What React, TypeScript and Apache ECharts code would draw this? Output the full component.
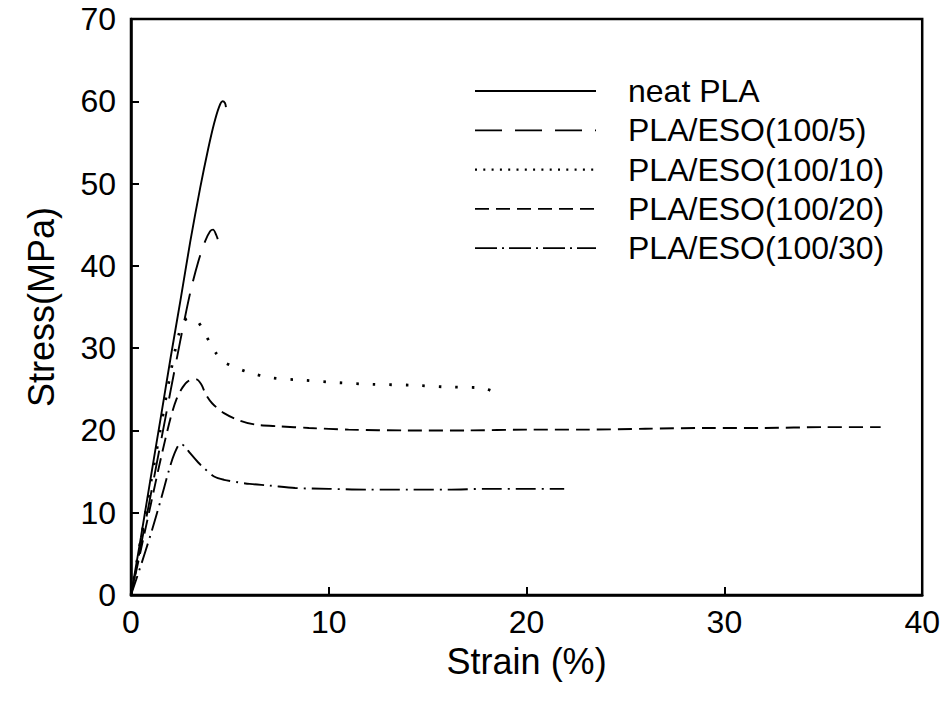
import React, { useEffect, useRef } from "react";
import * as echarts from "echarts";

const seriesNames = [
  "neat PLA",
  "PLA/ESO(100/5)",
  "PLA/ESO(100/10)",
  "PLA/ESO(100/20)",
  "PLA/ESO(100/30)",
];

const neatPLA: number[][] = [
  [0, 0], [0.5, 7], [1, 14.3], [1.5, 21.5], [2, 28.8], [2.5, 35.8], [3, 43],
  [3.5, 49.5], [3.9, 54.2], [4.2, 57.3], [4.45, 59.3], [4.63, 60], [4.75, 59.8], [4.8, 59.3],
];

const eso5: number[][] = [
  [0, 0], [0.5, 6], [1, 12.2], [1.5, 18.5], [2, 24.8], [2.5, 31], [3, 36.8],
  [3.4, 40.5], [3.75, 43], [4.0, 44.2], [4.15, 44.4], [4.3, 43.8], [4.45, 42.8], [4.6, 41.8],
];

const eso10: number[][] = [
  [0, 0], [0.5, 6.8], [1, 13.6], [1.5, 20.3], [2, 27], [2.4, 31.5], [2.65, 33.2],
  [2.87, 33.6], [3.3, 33.4], [3.6, 32.4], [4.0, 30.6], [4.3, 29.4], [4.65, 28.4],
  [5.05, 27.9], [5.9, 27.1], [7.1, 26.4], [8.8, 26.1], [10.5, 25.8], [12.2, 25.6],
  [14.2, 25.5], [15.8, 25.3], [17.5, 25.2], [18, 25], [18.35, 24.7],
];

const eso20: number[][] = [
  [0, 0], [0.5, 5.5], [1, 11], [1.5, 16.5], [2, 21.5], [2.3, 23.8], [2.6, 25.2],
  [2.9, 26], [3.3, 26.2], [3.55, 25.6], [3.8, 24.3], [4.1, 23.3], [4.7, 22.1],
  [5.5, 21.2], [6.3, 20.7], [7.5, 20.5], [9, 20.3], [11, 20.1], [14, 20.0], [17, 20.0],
  [20, 20.1], [23, 20.1], [26, 20.2], [29, 20.3], [32, 20.3], [35, 20.4], [37.9, 20.4],
];

const eso30: number[][] = [
  [0, 0], [0.5, 3.6], [1, 7.4], [1.5, 11.5], [1.9, 15], [2.2, 17.2], [2.5, 18.4],
  [2.7, 18.1], [3.0, 17.2], [3.4, 16.1], [3.7, 15.4], [4.2, 14.4], [4.7, 14.0],
  [5.4, 13.7], [6, 13.5], [7, 13.3], [8.3, 13.0], [10, 12.9], [12, 12.8], [14, 12.8],
  [16, 12.8], [18, 12.9], [20, 12.9], [21.9, 12.9],
];

const allData = [neatPLA, eso5, eso10, eso20, eso30];
const plotDash: (string | number[])[] = ["solid", [27, 13], [2.5, 14], [14, 7], [20, 6, 2, 6]];
const plotWidth = [1.9, 1.9, 2.8, 1.9, 1.9];
const legendDash: (number[] | null)[] = [null, [27, 13], [2, 6.3], [14, 7], [22, 5, 2, 5]];

const FONT = "'Liberation Sans', Arial, Helvetica, sans-serif";

export default function App() {
  const ref = useRef<HTMLDivElement>(null);

  useEffect(() => {
    if (!ref.current) return;
    const chart = echarts.init(ref.current, null, { renderer: "svg" });

    const legendTop = 91;
    const legendStep = 39.3;
    const graphics: any[] = [];
    seriesNames.forEach((name, i) => {
      const y = legendTop + i * legendStep;
      const style: any = { stroke: "#000", lineWidth: i === 2 ? 2.4 : 1.8 };
      if (legendDash[i]) style.lineDash = legendDash[i];
      graphics.push({
        type: "line",
        shape: { x1: 475, y1: y, x2: 596, y2: y },
        style,
        silent: true,
      });
      graphics.push({
        type: "text",
        x: 628,
        y: y,
        style: {
          text: name,
          font: `32px ${FONT}`,
          fill: "#000",
          textVerticalAlign: "middle",
          verticalAlign: "middle",
        },
        silent: true,
      });
    });

    chart.setOption({
      animation: false,
      backgroundColor: "#fff",
      grid: {
        left: 131,
        top: 19,
        right: 14,
        bottom: 127,
        show: true,
        borderColor: "#000",
        borderWidth: 2.5,
        backgroundColor: "transparent",
      },
      xAxis: {
        type: "value",
        min: 0,
        max: 40,
        interval: 10,
        name: "Strain (%)",
        nameLocation: "middle",
        nameGap: 48,
        nameTextStyle: { fontSize: 36, color: "#000", fontFamily: FONT },
        axisLine: { show: true, lineStyle: { color: "#000", width: 2.5 } },
        axisTick: { show: true, inside: true, length: 8, lineStyle: { color: "#000", width: 2 } },
        axisLabel: { fontSize: 32, color: "#000", fontFamily: FONT, margin: 11 },
        splitLine: { show: false },
      },
      yAxis: {
        type: "value",
        min: 0,
        max: 70,
        interval: 10,
        name: "Stress(MPa)",
        nameLocation: "middle",
        nameRotate: 90,
        nameGap: 72,
        nameTextStyle: { fontSize: 36, color: "#000", fontFamily: FONT },
        axisLine: { show: true, lineStyle: { color: "#000", width: 2.5 } },
        axisTick: { show: true, inside: true, length: 8, lineStyle: { color: "#000", width: 2 } },
        axisLabel: { fontSize: 32, color: "#000", fontFamily: FONT, margin: 15 },
        splitLine: { show: false },
      },
      series: allData.map((d, i) => ({
        name: seriesNames[i],
        type: "line",
        data: d,
        symbol: "none",
        smooth: 0.3,
        lineStyle: { color: "#000", width: plotWidth[i], type: plotDash[i] },
        silent: true,
        z: 3,
      })),
      graphic: graphics,
    });

    return () => chart.dispose();
  }, []);

  return (
    <div
      ref={ref}
      style={{ position: "fixed", left: 0, top: 0, width: 943, height: 722, background: "#fff" }}
    />
  );
}
